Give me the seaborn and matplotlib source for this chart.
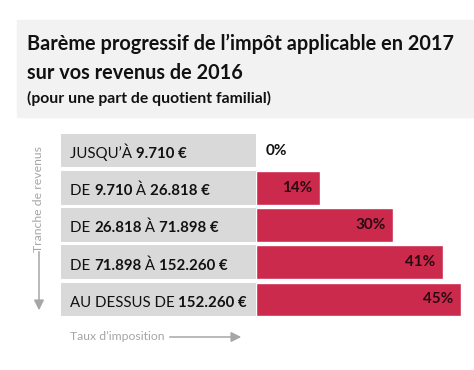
import matplotlib
matplotlib.use("Agg")
import pandas as pd
import seaborn as sns
from matplotlib import pyplot as plt
from matplotlib.patches import Rectangle, FancyArrowPatch

####################################
# data
####################################
# each label is a list of (text, bold) pieces
tranches = [
    [("JUSQU’À ", False), ("9.710 €", True)],
    [("DE ", False), ("9.710", True), (" À ", False), ("26.818 €", True)],
    [("DE ", False), ("26.818", True), (" À ", False), ("71.898 €", True)],
    [("DE ", False), ("71.898", True), (" À ", False), ("152.260 €", True)],
    [("AU DESSUS DE ", False), ("152.260 €", True)],
]
taux = [0, 14, 30, 41, 45]
taux_labels = ["0%", "14%", "30%", "41%", "45%"]

df = pd.DataFrame({"tranche": [str(i) for i in range(len(taux))], "taux": taux})

RED = "#cc2a4c"
GREY_BOX = "#d9d9d9"
TITLE_BG = "#f2f2f2"
ARROW_GREY = "#a6a6a6"

sns.set_theme(style="white")
plt.rcParams["font.family"] = ["Lato", "DejaVu Sans"]

W, H = 474, 370
fig = plt.figure(figsize=(W / 100, H / 100), dpi=100)


def px_box(x0, y0, x1, y1):
    # pixel box (top-left origin) -> figure fraction rect
    return [x0 / W, 1 - y1 / H, (x1 - x0) / W, (y1 - y0) / H]


####################################
# title block
####################################
fig.patches.append(
    Rectangle((17 / W, 1 - 117 / H), 1 - 17 / W, 97 / H,
              transform=fig.transFigure, color=TITLE_BG, zorder=0)
)
fig.text(27 / W, 1 - 50 / H, "Barème progressif de l’impôt applicable en 2017",
         fontsize=14.3, fontweight="bold", color="#111111", va="baseline")
fig.text(27 / W, 1 - 79 / H, "sur vos revenus de 2016",
         fontsize=14.3, fontweight="bold", color="#111111", va="baseline")
fig.text(27 / W, 1 - 103 / H, "(pour une part de quotient familial)",
         fontsize=11.3, fontweight="bold", color="#111111", va="baseline")

####################################
# bars
####################################
ax = fig.add_axes(px_box(256, 132, 474, 318))
sns.barplot(data=df, x="taux", y="tranche", orient="h", color=RED,
            saturation=1, width=0.9, ax=ax)
ax.set_xlim(0, 45 * 218 / 205)
ax.axis("off")

for i, (v, lab) in enumerate(zip(taux, taux_labels)):
    if v == 0:
        ax.text(v + 2.2, i, lab, ha="left", va="center", fontsize=11,
                fontweight="bold", color="#111111")
    else:
        ax.text(v - 1.6, i, lab, ha="right", va="center", fontsize=11,
                fontweight="bold", color="#2a0a12")

####################################
# label boxes
####################################
ax_lab = fig.add_axes(px_box(61, 132, 256, 318))
ax_lab.set_xlim(0, 1)
ax_lab.set_ylim(ax.get_ylim())
ax_lab.axis("off")

renderer = fig.canvas.get_renderer()
for i, pieces in enumerate(tranches):
    ax_lab.add_patch(Rectangle((0, i - 0.45), 1, 0.9, color=GREY_BOX, lw=0))
    x = 0.045
    for txt, bold in pieces:
        t = ax_lab.text(x, i + 0.2, txt, ha="left", va="baseline",
                        fontsize=10.8, color="#111111",
                        fontweight="bold" if bold else "normal")
        x1 = t.get_window_extent(renderer).x1
        x = ax_lab.transAxes.inverted().transform((x1, 0))[0]

####################################
# axis hints
####################################
fig.text(39 / W, 1 - 199 / H, "Tranche de revenus", rotation=90,
         ha="center", va="center", fontsize=8.8, color=ARROW_GREY)
fig.add_artist(FancyArrowPatch(
    (39 / W, 1 - 249 / H), (39 / W, 1 - 313 / H), transform=fig.transFigure,
    arrowstyle="-|>,head_length=4,head_width=2", color=ARROW_GREY, lw=1.1,
    mutation_scale=1.5))
fig.text(70 / W, 1 - 336 / H, "Taux d’imposition", ha="left", va="center",
         fontsize=8.8, color=ARROW_GREY)
fig.add_artist(FancyArrowPatch(
    (167 / W, 1 - 337 / H), (244 / W, 1 - 337 / H), transform=fig.transFigure,
    arrowstyle="-|>,head_length=4,head_width=2", color=ARROW_GREY, lw=1.1,
    mutation_scale=1.5))

fig.savefig("out.png", dpi=100)
